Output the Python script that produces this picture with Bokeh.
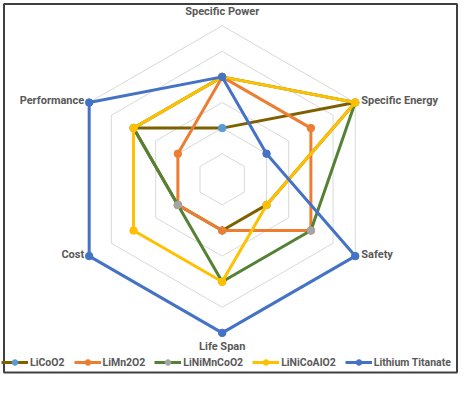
import numpy as np
from bokeh.plotting import figure
from bokeh.models import Range1d, Legend, LegendItem, ColumnDataSource
from bokeh.core.properties import value
from bokeh.embed import file_html
from bokeh.resources import INLINE

categories = ["Specific Power", "Specific Energy", "Safety", "Life Span", "Cost", "Performance"]
series_names = ["LiCoO2", "LiMn2O2", "LiNiMnCoO2", "LiNiCoAlO2", "Lithium Titanate"]
licoo2 = [1, 3, 1, 1, 1, 2]
limn2o2 = [2, 2, 2, 1, 1, 1]
linimncoo2 = [2, 3, 2, 2, 1, 2]
linicoalo2 = [2, 3, 1, 2, 2, 2]
lithium_titanate = [2, 1, 3, 3, 3, 3]
grid_levels = [0.5, 1, 1.5, 2, 2.5, 3]

series_values = [licoo2, limn2o2, linimncoo2, linicoalo2, lithium_titanate]
line_colors = ["#7F6000", "#ED7D31", "#548235", "#FFC000", "#4472C4"]
marker_colors = ["#5B9BD5", "#ED7D31", "#A5A5A5", "#FFC000", "#4472C4"]

W, H = 458, 378
cx, cy = 221.7, 178.8
unit = 51.2
n = len(categories)
angles = np.arange(n) * 2 * np.pi / n


def to_xy(vals):
    vals = np.asarray(vals, dtype=float)
    r = vals * unit
    return cx + r * np.sin(angles), cy - r * np.cos(angles)


p = figure(width=W, height=H, x_range=Range1d(0, W), y_range=Range1d(H, 0),
           output_backend="svg", toolbar_location=None, min_border=0)
p.axis.visible = False
p.grid.visible = False
p.outline_line_color = None
p.background_fill_color = "white"

# chart frame
p.quad(left=[3.5], right=[456.5], top=[3.5], bottom=[372], fill_color=None,
       line_color="#404040", line_width=2)

# grid hexagons
gx, gy = [], []
for lv in grid_levels:
    x, y = to_xy([lv] * n)
    gx.append(list(x) + [x[0]])
    gy.append(list(y) + [y[0]])
p.multi_line(gx, gy, line_color="#D9D9D9", line_width=1)

items = []
for name, vals, lc, mc in zip(series_names, series_values, line_colors, marker_colors):
    x, y = to_xy(vals)
    src = ColumnDataSource(dict(x=list(x) + [x[0]], y=list(y) + [y[0]]))
    lr = p.line("x", "y", source=src, line_color=lc, line_width=3)
    msrc = ColumnDataSource(dict(x=list(x), y=list(y)))
    sr = p.scatter("x", "y", source=msrc, size=7.5, fill_color=mc, line_color=mc, line_width=1)
    items.append(LegendItem(label=name, renderers=[lr, sr]))

# category labels
lx, ly = to_xy([3] * n)
label_x, label_y, aligns = [], [], []
for i in range(n):
    s = np.sin(angles[i])
    if abs(s) < 1e-6:
        label_x.append(lx[i])
        label_y.append(ly[i] + (-14 if np.cos(angles[i]) > 0 else 13.5))
        aligns.append("center")
    elif s > 0:
        label_x.append(lx[i] + 6)
        label_y.append(ly[i] - 2)
        aligns.append("left")
    else:
        label_x.append(lx[i] - 5)
        label_y.append(ly[i] - 2)
        aligns.append("right")
lsrc = ColumnDataSource(dict(x=label_x, y=label_y, t=categories, a=aligns))
p.text("x", "y", text="t", source=lsrc, text_align="a", text_baseline="middle",
       text_font=value("Roboto"), text_font_style="bold", text_font_size="11px",
       text_color="#595959")

legend = Legend(items=items, orientation="horizontal", location=(1, 9),
                glyph_width=27, glyph_height=14, label_height=14, label_standoff=2,
                spacing=9, padding=0, margin=0, border_line_color=None,
                background_fill_alpha=0,
                label_text_font="Roboto", label_text_font_style="bold",
                label_text_font_size="10.5px", label_text_color="#595959")
p.add_layout(legend, "center")

open("out.html", "w").write(file_html(p, INLINE))
